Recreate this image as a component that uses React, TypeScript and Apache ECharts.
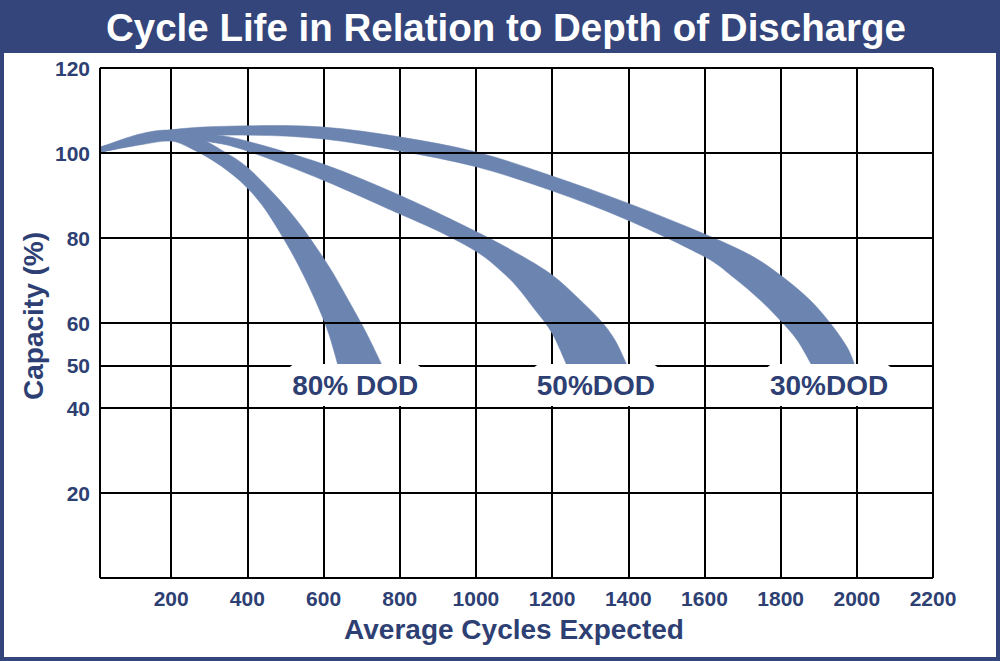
import React, { useEffect, useRef } from "react";
import * as echarts from "echarts";

// Axis ticks
const X_TICKS = [200, 400, 600, 800, 1000, 1200, 1400, 1600, 1800, 2000, 2200];
const Y_TICKS = [20, 40, 50, 60, 80, 100, 120];
const FRAME_LEFT = 13;

// Each band is bounded by an outer (upper/right) edge and an inner (lower/left) edge: [cycles, capacity %]
const dod30Outer = [
  [14, 101.4], [197, 105.4], [399, 106.4], [599, 106.1], [799, 103.8], [1003, 100.2],
  [1200, 94.6], [1399, 88.2], [1588, 81.4], [1720, 76.0], [1806, 70.8], [1877, 65.4],
  [1930, 60.0], [1974, 54.4], [1995, 50],
];
const dod30Inner = [
  [14, 100.2], [197, 103.5], [399, 104.2], [599, 103.3], [799, 100.5], [1003, 96.7],
  [1200, 91.1], [1399, 84.2], [1596, 75.8], [1675, 70.8], [1746, 65.4], [1798, 60.7],
  [1843, 56.0], [1882, 50],
];
const dod50Outer = [
  [14, 101.4], [197, 105.4], [302, 104.5], [399, 102.8], [599, 97.4], [799, 90.1],
  [1003, 81.4], [1116, 76.0], [1200, 71.3], [1268, 65.9], [1326, 60.7], [1365, 56.0],
  [1397, 50],
];
const dod50Inner = [
  [14, 100.2], [197, 103.5], [302, 102.6], [399, 100.5], [599, 93.6], [799, 85.7],
  [906, 81.4], [1003, 76.7], [1063, 72.5], [1108, 68.5], [1155, 63.1], [1200, 57.6],
  [1239, 50],
];
const dod80Outer = [
  [14, 101.4], [118, 104.5], [197, 105.4], [263, 104.0], [336, 100.5], [399, 96.7],
  [473, 90.1], [525, 84.7], [564, 80.0], [617, 72.9], [662, 65.9], [711, 57.9], [754, 50],
];
const dod80Inner = [
  [14, 100.2], [118, 101.9], [197, 102.8], [249, 101.2], [315, 97.9], [381, 93.4],
  [438, 87.8], [494, 80.0], [538, 72.9], [578, 65.4], [612, 57.9], [638, 50],
];

// Curve labels: [cycles, capacity %, text]
const curveLabels = [
  [683, 45.4, "80% DOD"],
  [1315, 45.4, "50%DOD"],
  [1927, 45.4, "30%DOD"],
];

const NAVY = "#33457a";
const TEXT_NAVY = "#2e3f73";
const BAND = "#6c84b0";
const FONT = "'Liberation Sans', Arial, Helvetica, sans-serif";

// Catmull-Rom spline through pixel points, as cubic bezier path commands
function splineCommands(pts: number[][], moveFirst: boolean) {
  const f = (n: number) => n.toFixed(2);
  let d = moveFirst ? `M${f(pts[0][0])},${f(pts[0][1])}` : `L${f(pts[0][0])},${f(pts[0][1])}`;
  for (let i = 0; i < pts.length - 1; i++) {
    const p0 = pts[i - 1] || pts[i];
    const p1 = pts[i];
    const p2 = pts[i + 1];
    const p3 = pts[i + 2] || p2;
    const c1x = p1[0] + (p2[0] - p0[0]) / 6;
    const c1y = p1[1] + (p2[1] - p0[1]) / 6;
    const c2x = p2[0] - (p3[0] - p1[0]) / 6;
    const c2y = p2[1] - (p3[1] - p1[1]) / 6;
    d += `C${f(c1x)},${f(c1y)} ${f(c2x)},${f(c2y)} ${f(p2[0])},${f(p2[1])}`;
  }
  return d;
}

function bandSeries(name: string, outer: number[][], inner: number[][]) {
  return {
    type: "custom",
    name,
    z: 3,
    silent: true,
    data: [[0, 0]],
    renderItem: (_params: any, api: any) => {
      const o = outer.map((p) => api.coord(p));
      const i = inner.slice().reverse().map((p) => api.coord(p));
      const pathData = splineCommands(o, true) + splineCommands(i, false) + "Z";
      return {
        type: "path",
        shape: { pathData },
        style: { fill: BAND, stroke: BAND, lineWidth: 0.5 },
      };
    },
  };
}

export default function App() {
  const ref = useRef<HTMLDivElement>(null);

  useEffect(() => {
    if (!ref.current) return;
    const chart = echarts.init(ref.current, null, { renderer: "svg" });

    const hLines = [0, ...Y_TICKS].map((v) => [
      { coord: [FRAME_LEFT, v] },
      { coord: [2200, v] },
    ]);
    hLines.push([{ coord: [FRAME_LEFT, 0] }, { coord: [FRAME_LEFT, 120] }]);

    chart.setOption({
      animation: false,
      backgroundColor: "#ffffff",
      textStyle: { fontFamily: FONT },
      grid: { left: 95, top: 68, width: 838, height: 510 },
      xAxis: {
        type: "value",
        min: 0,
        max: 2200,
        interval: 200,
        name: "Average Cycles Expected",
        nameLocation: "middle",
        nameGap: 37,
        nameTextStyle: { color: TEXT_NAVY, fontSize: 28, fontWeight: "bold", fontFamily: FONT },
        axisLine: { show: false },
        axisTick: { show: false },
        axisLabel: {
          margin: 10,
          color: TEXT_NAVY,
          fontSize: 21,
          fontWeight: "bold",
          fontFamily: FONT,
          formatter: (v: number) => (X_TICKS.includes(v) ? String(v) : ""),
        },
        splitLine: {
          show: true,
          showMinLine: false,
          showMaxLine: true,
          lineStyle: { color: "#000", width: 2 },
        },
      },
      yAxis: {
        type: "value",
        min: 0,
        max: 120,
        interval: 10,
        axisLine: { show: false },
        axisTick: { show: false },
        splitLine: { show: false },
        axisLabel: {
          margin: 5,
          color: TEXT_NAVY,
          fontSize: 21,
          fontWeight: "bold",
          fontFamily: FONT,
          formatter: (v: number) => (Y_TICKS.includes(v) ? String(v) : ""),
        },
      },
      graphic: [
        {
          type: "rect",
          z: 100,
          shape: { x: 0, y: 0, width: 1000, height: 53 },
          style: { fill: NAVY },
        },
        {
          type: "rect",
          z: 100,
          shape: { x: 2, y: 2, width: 996, height: 657 },
          style: { fill: "none", stroke: NAVY, lineWidth: 4 },
        },
        {
          type: "text",
          z: 101,
          x: 506,
          y: 27,
          style: {
            text: "Cycle Life in Relation to Depth of Discharge",
            fill: "#ffffff",
            font: `bold 38.5px ${FONT}`,
            align: "center",
            verticalAlign: "middle",
          },
        },
        {
          type: "text",
          z: 101,
          x: 33,
          y: 316,
          rotation: Math.PI / 2,
          style: {
            text: "Capacity (%)",
            fill: TEXT_NAVY,
            font: `bold 28px ${FONT}`,
            align: "center",
            verticalAlign: "middle",
          },
        },
      ],
      series: [
        {
          type: "line",
          z: 1,
          silent: true,
          data: [[FRAME_LEFT, 0]],
          showSymbol: false,
          lineStyle: { width: 0 },
          markLine: {
            silent: true,
            symbol: "none",
            label: { show: false },
            lineStyle: { color: "#000", width: 2, type: "solid" },
            data: hLines,
          },
        },
        bandSeries("30% DOD", dod30Outer, dod30Inner),
        bandSeries("50% DOD", dod50Outer, dod50Inner),
        bandSeries("80% DOD", dod80Outer, dod80Inner),
        {
          type: "scatter",
          z: 10,
          silent: true,
          symbolSize: 0,
          itemStyle: { opacity: 1 },
          data: curveLabels.map((d) => ({ value: [d[0], d[1]], name: d[2] })),
          label: {
            show: true,
            position: "inside",
            formatter: (p: any) => p.name,
            color: TEXT_NAVY,
            opacity: 1,
            fontSize: 28,
            lineHeight: 28,
            fontWeight: "bold",
            fontFamily: FONT,
            backgroundColor: "#ffffff",
            borderRadius: 8,
            padding: [5, 4, 9, 4],
          },
        },
      ],
    });

    return () => chart.dispose();
  }, []);

  return (
    <div
      ref={ref}
      style={{ position: "fixed", left: 0, top: 0, width: 1000, height: 661 }}
    />
  );
}
